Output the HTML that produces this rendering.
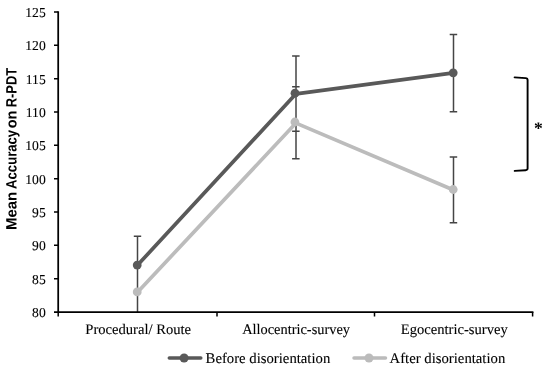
<!DOCTYPE html>
<html>
<head>
<meta charset="utf-8">
<title>Mean Accuracy on R-PDT</title>
<style>
html,body{margin:0;padding:0;background:#fff;}
body{width:550px;height:372px;overflow:hidden;}
svg{display:block;}
.t{font-family:"Liberation Serif","Times New Roman",serif;font-size:13.6px;fill:#000;stroke:#000;stroke-width:0.1px;text-rendering:geometricPrecision;}
.c{font-family:"Liberation Serif","Times New Roman",serif;font-size:14.6px;fill:#000;stroke:#000;stroke-width:0.1px;text-rendering:geometricPrecision;}
.l{font-size:14.72px;}
.y{font-family:"Liberation Sans",Arial,sans-serif;font-weight:bold;font-size:15px;fill:#000;text-rendering:geometricPrecision;}
</style>
</head>
<body>
<svg width="550" height="372" viewBox="0 0 550 372">
<rect width="550" height="372" fill="#fff"/>

<!-- error bars -->
<g stroke="#454545" stroke-width="1.5" fill="none">
  <!-- cat 1 -->
  <path d="M137.5 236.2V312 M133.8 236.2H141.2"/>
  <!-- cat 2 before -->
  <path d="M296 56V158.8 M292.1 56H299.6 M292.1 131.2H299.6"/>
  <!-- cat 2 after -->
  <path d="M292.1 86.8H299.6 M292.1 158.8H299.6"/>
  <!-- cat 3 before -->
  <path d="M453.5 34.5V111.7 M449.7 34.5H457.2 M449.7 111.7H457.2"/>
  <!-- cat 3 after -->
  <path d="M453.5 157V222.7 M449.7 157H457.2 M449.7 222.7H457.2"/>
</g>

<!-- after line -->
<polyline points="137.5,292.2 296,123.1 453.5,190" fill="none" stroke="#bcbcbc" stroke-width="3.7" stroke-linejoin="round" stroke-linecap="round"/>
<g fill="#bcbcbc"><circle cx="137.2" cy="291.9" r="4.4"/><circle cx="294.9" cy="122" r="4.4"/><circle cx="453.2" cy="189.5" r="4.4"/></g>
<!-- before line -->
<polyline points="137.4,265.3 296,93.8 453.5,72.9" fill="none" stroke="#595959" stroke-width="3.7" stroke-linejoin="round" stroke-linecap="round"/>
<g fill="#595959"><circle cx="137.2" cy="265.1" r="4.4"/><circle cx="295" cy="93.2" r="4.4"/><circle cx="453.2" cy="72.8" r="4.4"/></g>

<!-- axes -->
<g stroke="#000" stroke-width="1.75" fill="none">
  <path d="M58.2 11.2V313"/>
  <path d="M54 312.1H533.4"/>
</g>
<g stroke="#000" stroke-width="1.5" fill="none">
  <path d="M54 12H58 M54 45.3H58 M54 78.7H58 M54 112H58 M54 145.3H58 M54 178.7H58 M54 212H58 M54 245.3H58 M54 278.7H58"/>
  <path d="M58.2 312V316.5 M217 312V316.5 M374.5 312V316.5 M532.6 312V316.5"/>
</g>

<!-- y tick labels -->
<g class="t" text-anchor="end">
  <text transform="translate(45.7,16.95)">125</text>
  <text transform="translate(45.7,50.25)">120</text>
  <text transform="translate(45.7,83.65)">115</text>
  <text transform="translate(45.7,116.95)">110</text>
  <text transform="translate(45.7,150.25)">105</text>
  <text transform="translate(45.7,183.65)">100</text>
  <text transform="translate(45.7,216.95)">95</text>
  <text transform="translate(45.7,250.25)">90</text>
  <text transform="translate(45.7,283.65)">85</text>
  <text transform="translate(45.7,316.95)">80</text>
</g>

<!-- category labels -->
<g class="c" text-anchor="middle">
  <text x="138.2" y="334">Procedural/ Route</text>
  <text x="296.1" y="334" textLength="107.9" lengthAdjust="spacingAndGlyphs">Allocentric-survey</text>
  <text x="454.3" y="334">Egocentric-survey</text>
</g>

<!-- legend -->
<line x1="169.3" y1="358" x2="200.8" y2="358" stroke="#595959" stroke-width="3.5" stroke-linecap="round"/>
<circle cx="184.1" cy="358" r="4.5" fill="#595959"/>
<text class="c l" x="205.6" y="363.3">Before disorientation</text>
<line x1="354" y1="358" x2="385.5" y2="358" stroke="#bbbbbb" stroke-width="3.5" stroke-linecap="round"/>
<circle cx="369" cy="358" r="4.5" fill="#bbbbbb"/>
<text class="c l" x="389.6" y="363.3">After disorientation</text>

<!-- y axis title -->
<g class="y">
<text transform="translate(16.5,229.9) rotate(-89.9)" textLength="38" lengthAdjust="spacingAndGlyphs">Mean</text>
<text transform="translate(16.5,188.9) rotate(-89.9)" textLength="59" lengthAdjust="spacingAndGlyphs">Accuracy</text>
<text transform="translate(16.5,128.3) rotate(-89.9)" textLength="17.8" lengthAdjust="spacingAndGlyphs">on</text>
<text transform="translate(16.5,107.2) rotate(-89.9)" textLength="39.3" lengthAdjust="spacingAndGlyphs">R-PDT</text>
</g>

<!-- significance bracket -->
<path d="M514.6 77.4L525.6 78.1Q527.6 78.2 527.6 80V168.6Q527.6 170.1 525.6 170.2L514.7 170.9" fill="none" stroke="#000" stroke-width="1.9" stroke-linecap="round"/>
<text class="c" x="538.5" y="134.1" text-anchor="middle" style="font-size:17.6px;font-weight:bold;stroke:none">*</text>
</svg>
</body>
</html>
